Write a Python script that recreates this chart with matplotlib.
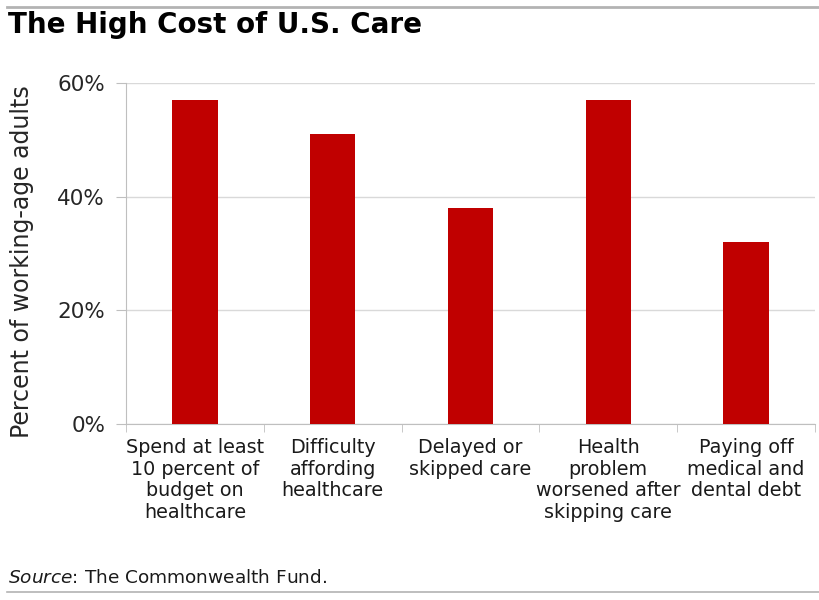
import numpy as np
import matplotlib
matplotlib.use("Agg")
import matplotlib.pyplot as plt
from matplotlib.lines import Line2D

# data
categories = ["Spend at least\n10 percent of\nbudget on\nhealthcare",
              "Difficulty\naffording\nhealthcare",
              "Delayed or\nskipped care",
              "Health\nproblem\nworsened after\nskipping care",
              "Paying off\nmedical and\ndental debt"]
values = [57, 51, 38, 57, 32]
yticks = [0, 20, 40, 60]

plt.rcParams['font.family'] = ['DejaVu Sans']
fig = plt.figure(figsize=(8.19, 6.0), dpi=100)
W, H = 819, 600

ax = fig.add_axes([126 / W, 1 - 424 / H, (815 - 126) / W, (424 - 83) / H])
x = np.arange(len(values))
ax.bar(x, values, width=0.33, color="#c00000", zorder=3)
ax.set_xlim(-0.5, len(values) - 0.5)
ax.set_ylim(0, 60)
ax.set_yticks(yticks)
ax.set_yticklabels(["%d%%" % v for v in yticks], fontsize=15.5, color="#262626")
ax.set_xticks(x)
ax.set_xticklabels(categories, fontsize=13.8, color="#1a1a1a", linespacing=1.18)
ax.tick_params(axis="x", length=0, pad=10)
ax.set_xticks(np.arange(-0.5, len(values)), minor=True)
ax.tick_params(axis="x", which="minor", length=6, color="#bfbfbf")
ax.tick_params(axis="y", length=7, color="#bfbfbf", pad=8)
ax.grid(axis="y", color="#d9d9d9", lw=1, zorder=0)
for s in ["top", "right"]:
    ax.spines[s].set_visible(False)
for s in ["left", "bottom"]:
    ax.spines[s].set_color("#bfbfbf")

# y label placed by hand to match the reference
fig.text(22 / W, 1 - 262 / H, "Percent of working-age adults", rotation=90,
         fontsize=17, color="#262626", ha="center", va="center")

# title, source and rules
fig.add_artist(Line2D([7 / W, 1], [1 - 7 / H, 1 - 7 / H], color="#b3b3b3", lw=2))
fig.text(8 / W, 1 - 25 / H, "The High Cost of U.S. Care", fontsize=20, fontweight="bold",
         va="center", ha="left", color="black")
fig.text(8 / W, 1 - 578 / H, r"$\it{Source}$: The Commonwealth Fund.", fontsize=13.3,
         va="center", ha="left", color="#1a1a1a")
fig.add_artist(Line2D([7 / W, 1], [1 - 592 / H, 1 - 592 / H], color="#b3b3b3", lw=1.2))

fig.savefig("out.png", dpi=100)
